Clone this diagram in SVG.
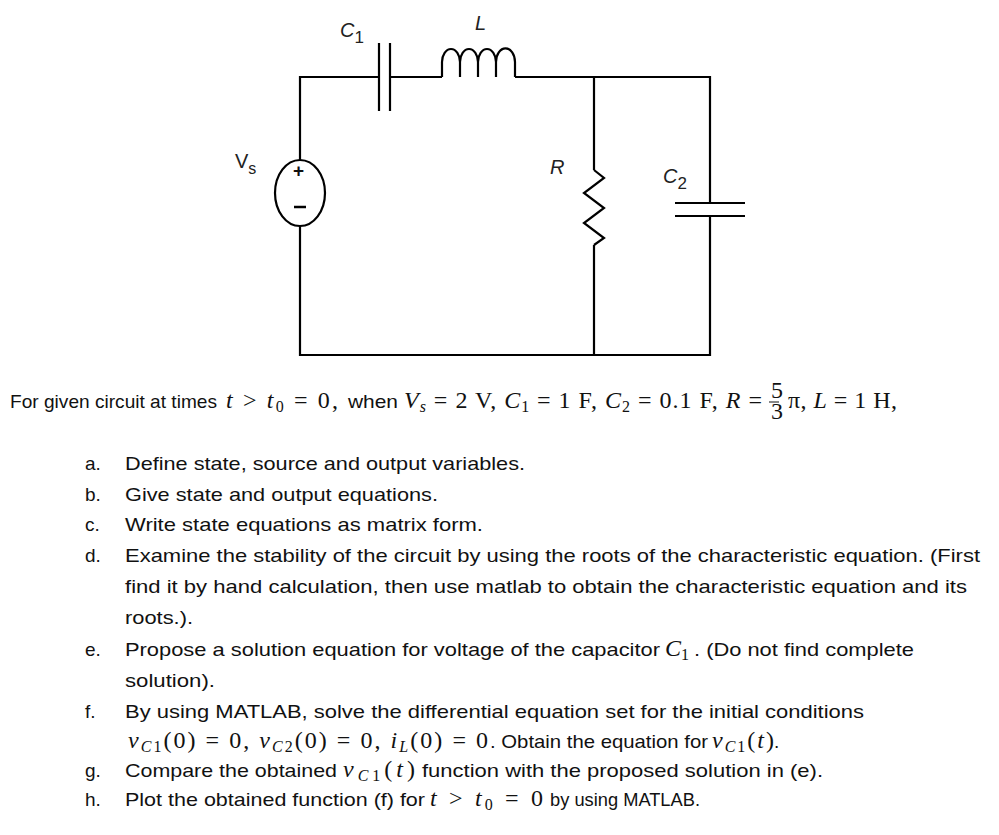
<svg xmlns="http://www.w3.org/2000/svg" width="999" height="835" viewBox="0 0 999 835">
<style>
.w{fill:none;stroke:#000;stroke-width:2.2}
.t{font-family:"Liberation Sans",Arial,sans-serif;font-size:19px;fill:#111}
.m{font-family:"Liberation Serif","Times New Roman",serif;font-size:24px;fill:#111}
.i{font-style:italic}
.s{font-size:16px}
.l{font-family:"Liberation Sans",Arial,sans-serif;font-size:20px;fill:#222}
</style>
<rect width="999" height="835" fill="#fff"/>
<g id="wires">
<path class="w" d="M379 77 H300 V160 M300 226 V355 H710 V216 M390 77 H442 M515 77 H710 V203 M594 77 V170 M594 245 V355"/>
</g>
<g id="Vs"><ellipse class="w" cx="300" cy="193" rx="25" ry="33"/><text class="t" x="293" y="177" font-size="18" font-weight="bold">+</text><path d="M294 207 H306" stroke="#000" stroke-width="2.5"/><text class="l" x="235" y="168">V<tspan font-size="16" dy="6">s</tspan></text></g>
<g id="C1"><path class="w" d="M379 43 V111 M390 43 V111"/><text class="l i" x="340" y="37">C<tspan font-size="17" dy="6" font-style="normal">1</tspan></text></g>
<g id="L"><path class="w" d="M442 77 V62 A9 13 0 0 1 460 62 V77 M460 62 A9 13 0 0 1 478 62 V77 M478 62 A9 13 0 0 1 496 62 V77 M496 62 A9 13 0 0 1 515 62 V77"/><text class="l i" x="475" y="30">L</text></g>
<g id="R"><path class="w" d="M594 170 L604 178 L584 193 L604 208 L584 223 L604 238 L594 245"/><text class="l i" x="550" y="174">R</text></g>
<g id="C2"><path class="w" d="M675 203 H745 M675 216 H745"/><text class="l i" x="663" y="183">C<tspan font-size="17" dy="6" font-style="normal">2</tspan></text></g>
<g id="text">
<text class="t" x="10" y="408" textLength="207" lengthAdjust="spacingAndGlyphs">For given circuit at times</text>
<text class="m" x="226" y="408" textLength="112" lengthAdjust="spacing"><tspan class="i">t</tspan> &gt; <tspan class="i">t</tspan><tspan class="s" dy="4">0</tspan><tspan dy="-4"> = 0,</tspan></text>
<text class="t" x="348" y="408" textLength="50" lengthAdjust="spacingAndGlyphs">when</text>
<text class="m" x="404" y="408" textLength="358" lengthAdjust="spacing"><tspan class="i">V</tspan><tspan class="s i" dy="4">s</tspan><tspan dy="-4"> = 2 V, </tspan><tspan class="i">C</tspan><tspan class="s" dy="4">1</tspan><tspan dy="-4"> = 1 F, </tspan><tspan class="i">C</tspan><tspan class="s" dy="4">2</tspan><tspan dy="-4"> = 0.1 F, </tspan><tspan class="i">R</tspan> =</text>
<text class="m" x="771" y="398" font-size="12">5</text><path d="M769 402 H779" stroke="#111" stroke-width="1"/><text class="m" x="771" y="419" font-size="12">3</text>
<text class="m" x="788" y="408" textLength="109" lengthAdjust="spacing">π, <tspan class="i">L</tspan> = 1 H,</text>
<g class="t">
<text x="85" y="470">a.</text><text x="125" y="470" textLength="400" lengthAdjust="spacingAndGlyphs">Define state, source and output variables.</text>
<text x="85" y="501">b.</text><text x="125" y="501" textLength="313" lengthAdjust="spacingAndGlyphs">Give state and output equations.</text>
<text x="85" y="531">c.</text><text x="125" y="531" textLength="358" lengthAdjust="spacingAndGlyphs">Write state equations as matrix form.</text>
<text x="85" y="562">d.</text><text x="125" y="562" textLength="855" lengthAdjust="spacingAndGlyphs">Examine the stability of the circuit by using the roots of the characteristic equation. (First</text>
<text x="125" y="593" textLength="842" lengthAdjust="spacingAndGlyphs">find it by hand calculation, then use matlab to obtain the characteristic equation and its</text>
<text x="125" y="624" textLength="68" lengthAdjust="spacingAndGlyphs">roots.).</text>
<text x="85" y="656">e.</text><text x="125" y="656" textLength="535" lengthAdjust="spacingAndGlyphs">Propose a solution equation for voltage of the capacitor</text>
<text class="m" x="665" y="656"><tspan class="i">C</tspan><tspan class="s" dy="4">1</tspan></text>
<text x="694" y="656" textLength="220" lengthAdjust="spacingAndGlyphs">. (Do not find complete</text>
<text x="125" y="687" textLength="90" lengthAdjust="spacingAndGlyphs">solution).</text>
<text x="85" y="718">f.</text><text x="125" y="718" textLength="739" lengthAdjust="spacingAndGlyphs">By using MATLAB, solve the differential equation set for the initial conditions</text>
<text class="m" x="128" y="748" textLength="360" lengthAdjust="spacing"><tspan class="i">v</tspan><tspan class="s i" dy="4">C</tspan><tspan class="s">1</tspan><tspan dy="-4">(0) = 0, </tspan><tspan class="i">v</tspan><tspan class="s i" dy="4">C</tspan><tspan class="s">2</tspan><tspan dy="-4">(0) = 0, </tspan><tspan class="i">i</tspan><tspan class="s i" dy="4">L</tspan><tspan dy="-4">(0) = 0</tspan></text>
<text x="490" y="748" textLength="218" lengthAdjust="spacingAndGlyphs">. Obtain the equation for</text>
<text class="m" x="712" y="748" textLength="62" lengthAdjust="spacing"><tspan class="i">v</tspan><tspan class="s i" dy="4">C</tspan><tspan class="s">1</tspan><tspan dy="-4">(</tspan><tspan class="i">t</tspan>)</text>
<text x="774" y="748">.</text>
<text x="85" y="777">g.</text><text x="125" y="777" textLength="212" lengthAdjust="spacingAndGlyphs">Compare the obtained</text>
<text class="m" x="343" y="777" textLength="72" lengthAdjust="spacing"><tspan class="i">v</tspan><tspan class="s i" dy="4">C</tspan><tspan class="s">1</tspan><tspan dy="-4">(</tspan><tspan class="i">t</tspan>)</text>
<text x="422" y="777" textLength="401" lengthAdjust="spacingAndGlyphs">function with the proposed solution in (e).</text>
<text x="85" y="806">h.</text><text x="125" y="806" textLength="300" lengthAdjust="spacingAndGlyphs">Plot the obtained function (f) for</text>
<text class="m" x="430" y="806" textLength="113" lengthAdjust="spacing"><tspan class="i">t</tspan> &gt; <tspan class="i">t</tspan><tspan class="s" dy="4">0</tspan><tspan dy="-4"> = 0</tspan></text>
<text x="550" y="806" textLength="150" lengthAdjust="spacingAndGlyphs">by using MATLAB.</text>
</g>
</g>
</svg>
